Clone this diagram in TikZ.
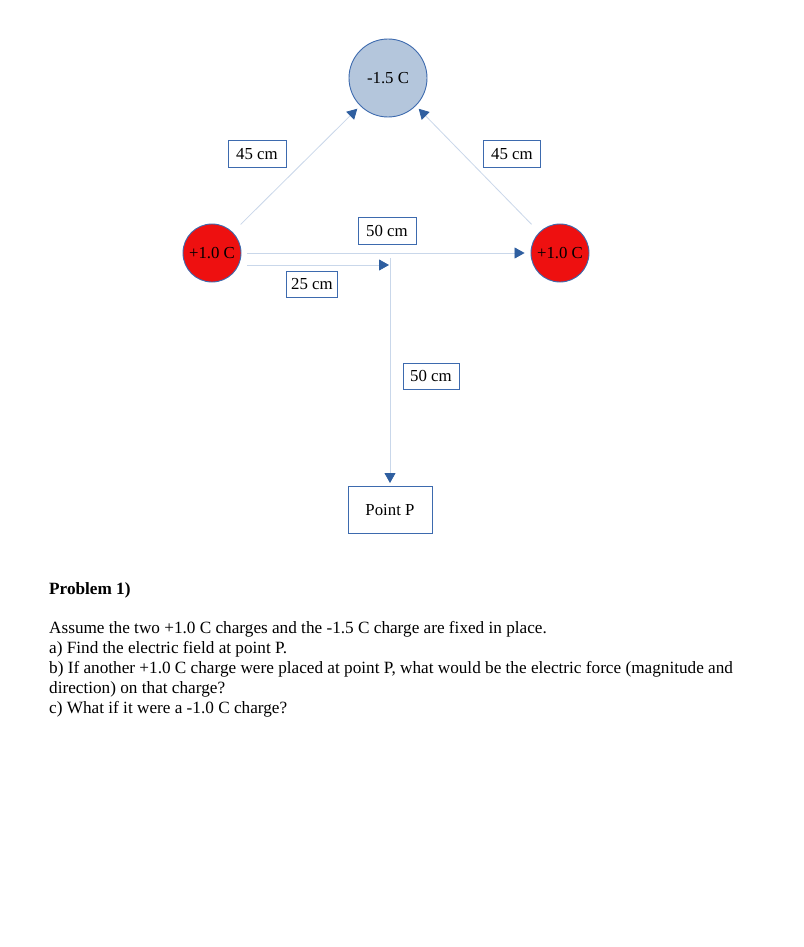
\documentclass[tikz,border=0pt]{standalone}
\usepackage{fontspec}
\setmainfont{Liberation Serif}
\usetikzlibrary{arrows.meta}
\definecolor{negfill}{HTML}{B4C6DC}
\definecolor{posfill}{HTML}{EE1010}
\definecolor{edgeblue}{HTML}{3D6AAE}
\definecolor{tipblue}{HTML}{2F5FA0}
\definecolor{wireblue}{HTML}{C9D7EA}

\begin{document}
\begin{tikzpicture}[x=1pt, y=-1pt,
  charge/.style={circle, draw=edgeblue, line width=0.9pt, inner sep=0pt,
    font=\fontsize{16.8}{19}\selectfont},
  dist/.style={draw=edgeblue, line width=1pt, fill=white, inner sep=0pt,
    minimum height=27pt, font=\fontsize{16.8}{19}\selectfont},
  wire/.style={draw=wireblue, line width=0.8pt,
    -{Triangle[length=10pt, width=11pt, color=tipblue]}}]
  \useasboundingbox[fill=white] (0,0) rectangle (803,947);

  % charges
  \node [charge, fill=negfill, minimum size=78pt] (qa) at (388,78) {-1.5 C};
  \node [charge, fill=posfill, minimum size=58pt] (q1) at (212,253) {+1.0 C};
  \node [charge, fill=posfill, minimum size=58pt] (q2) at (560,253) {+1.0 C};
  \node [dist, minimum width=84pt, minimum height=47pt] (pt) at (390,510) {Point P};

  \coordinate (m1) at (389,265);
  \coordinate (m0) at (390,258);

  % connectors
  \draw [wire, shorten <=11pt, shorten >=4pt] (q1.45) -- (qa.225);
  \draw [wire, shorten <=11pt, shorten >=4pt] (q2.135) -- (qa.-45);
  \draw [wire, shorten <=6pt, shorten >=6pt] (q1.east) -- (q2.west);
  \draw [wire, shorten <=6pt] ([yshift=-12pt]q1.east) -- (m1);
  \draw [wire, shorten >=3pt] (m0) -- (pt.north);

  % distances
  \node [dist, minimum width=58pt] (dl) at (257,154) {45 cm};
  \node [dist, minimum width=57pt] (dr) at (512,154) {45 cm};
  \node [dist, minimum width=58pt] (dh) at (387,231) {50 cm};
  \node [dist, minimum width=51pt, minimum height=26pt] (dq) at (312,284) {25 cm};
  \node [dist, minimum width=56pt, minimum height=26pt] (dv) at (431,376) {50 cm};

  % problem text
  \node [anchor=base west, inner sep=0pt, font=\fontsize{17.2}{20}\selectfont\bfseries]
    (title) at (49,594) {Problem 1)};
  \node [anchor=north west, inner sep=0pt, align=left,
    font=\fontsize{17.2}{20}\selectfont] (text) at (49,621)
    {Assume the two +1.0 C charges and the -1.5 C charge are fixed in place.\\
     a) Find the electric field at point P.\\
     b) If another +1.0 C charge were placed at point P, what would be the electric force (magnitude and\\
     direction) on that charge?\\
     c) What if it were a -1.0 C charge?};
\end{tikzpicture}
\end{document}
